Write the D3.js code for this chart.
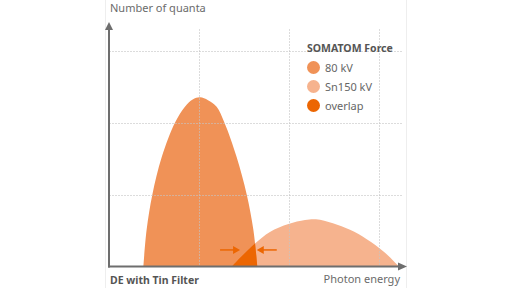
<!DOCTYPE html>
<html>
<head>
<meta charset="utf-8">
<script src="https://cdn.jsdelivr.net/npm/d3@7"></script>
<style>
  body { margin: 0; background: #fff; }
  svg { display: block; font-family: "Noto Sans", sans-serif; }
</style>
</head>
<body>
<svg id="chart"></svg>
<script>

  // ---------------------------//
  //            DATA            //
  // ---------------------------//

    // photon energy (keV) and relative number of quanta
    var energy80 = [19.1, 20.9, 24.1, 29.3, 36.7, 42.2, 46.5, 50.6, 55, 59.8, 64.1, 70.9, 76.5, 80.2, 82.4];
    var quanta80 = [0, 0.51, 1.0, 1.52, 2.0, 2.22, 2.32, 2.35, 2.31, 2.22, 2.0, 1.52, 1.0, 0.51, 0];

    var energySn150 = [68.3, 72.8, 81.1, 89.4, 99.7, 108.9, 115, 124.4, 133.9, 143.2, 152.5, 161.1];
    var quantaSn150 = [0, 0.12, 0.32, 0.48, 0.59, 0.645, 0.656, 0.60, 0.51, 0.38, 0.21, 0];

    var gridEnergy = [50, 100, 150];
    var gridQuanta = [1, 2, 3];

    var legendTitle = "SOMATOM Force";
    var legendLabels = ["80 kV", "Sn150 kV", "overlap"];
    var legendColors = ["#f09257", "#f6b38e", "#ec6602"];

    // little arrows pointing at the overlap (energy from, energy to, quanta)
    var overlapArrows = [[61.7, 72.8, 0.23], [93.2, 82.1, 0.23]];

  // ---------------------------//
  //         DIMENSIONS         //
  // ---------------------------//

    var width = 512;
    var height = 288;

    var x = d3.scaleLinear().domain([0, 150]).range([109, 379]);
    var y = d3.scaleLinear().domain([0, 3]).range([266.5, 50.5]);

    var svg = d3.select("#chart")
        .attr("width", width)
        .attr("height", height);

    var axisColor = "#6e6e6e";

  // ---------------------------//
  //           FRAME            //
  // ---------------------------//

    svg.selectAll(".frame")
        .data([105.5, 406.5])
        .enter().append("line")
        .attr("x1", d => d).attr("x2", d => d)
        .attr("y1", 0).attr("y2", height)
        .attr("stroke", "#eeeeee")
        .attr("stroke-width", 1);

  // ---------------------------//
  //           AREAS            //
  // ---------------------------//

    var data80 = energy80.map((e, i) => ({ e: e, q: quanta80[i] }));
    var dataSn = energySn150.map((e, i) => ({ e: e, q: quantaSn150[i] }));

    var area = d3.area()
        .x(d => x(d.e))
        .y0(y(0))
        .y1(d => y(d.q))
        .curve(d3.curveCatmullRom.alpha(0.5));

    svg.append("path")
        .datum(dataSn)
        .attr("d", area)
        .attr("fill", legendColors[1]);

    svg.append("path")
        .datum(data80)
        .attr("d", area)
        .attr("fill", legendColors[0]);

    // overlap = Sn150 area clipped by the 80 kV area
    svg.append("clipPath")
        .attr("id", "clip80")
        .append("path")
        .datum(data80)
        .attr("d", area);

    svg.append("path")
        .datum(dataSn)
        .attr("d", area)
        .attr("clip-path", "url(#clip80)")
        .attr("fill", legendColors[2]);

  // ---------------------------//
  //           GRID             //
  // ---------------------------//

    svg.selectAll(".hgrid")
        .data(gridQuanta)
        .enter().append("line")
        .attr("x1", x(0)).attr("x2", 403)
        .attr("y1", d => Math.round(y(d)) + 0.5)
        .attr("y2", d => Math.round(y(d)) + 0.5)
        .attr("stroke", "#c4c4c4")
        .attr("stroke-opacity", 0.6)
        .attr("stroke-dasharray", "2,1");

    svg.selectAll(".vgrid")
        .data(gridEnergy)
        .enter().append("line")
        .attr("x1", d => Math.round(x(d)) + 0.5)
        .attr("x2", d => Math.round(x(d)) + 0.5)
        .attr("y1", 29).attr("y2", y(0))
        .attr("stroke", "#c4c4c4")
        .attr("stroke-opacity", 0.6)
        .attr("stroke-dasharray", "2,1");

  // ---------------------------//
  //           AXES             //
  // ---------------------------//

    svg.append("line")
        .attr("x1", x(0)).attr("x2", x(0))
        .attr("y1", y(0) + 1).attr("y2", 28)
        .attr("stroke", axisColor)
        .attr("stroke-width", 2);

    svg.append("path")
        .attr("d", "M" + (x(0) - 4) + ",30L" + x(0) + ",22L" + (x(0) + 4) + ",30Z")
        .attr("fill", axisColor);

    svg.append("line")
        .attr("x1", x(0) - 1).attr("x2", 400)
        .attr("y1", y(0)).attr("y2", y(0))
        .attr("stroke", axisColor)
        .attr("stroke-width", 2);

    svg.append("path")
        .attr("d", "M398," + (y(0) - 4) + "L407," + y(0) + "L398," + (y(0) + 4) + "Z")
        .attr("fill", axisColor);

  // ---------------------------//
  //          ARROWS            //
  // ---------------------------//

    var arrows = svg.selectAll(".arrow")
        .data(overlapArrows)
        .enter().append("g");

    arrows.append("line")
        .attr("x1", d => x(d[0]))
        .attr("x2", d => x(d[1]) - Math.sign(d[1] - d[0]) * 5)
        .attr("y1", d => y(d[2]))
        .attr("y2", d => y(d[2]))
        .attr("stroke", legendColors[2])
        .attr("stroke-width", 1.5);

    arrows.append("path")
        .attr("d", function(d) {
            var tip = x(d[1]);
            var back = tip - Math.sign(d[1] - d[0]) * 7;
            var yy = y(d[2]);
            return "M" + back + "," + (yy - 4) + "L" + tip + "," + yy + "L" + back + "," + (yy + 4) + "Z";
        })
        .attr("fill", legendColors[2]);

  // ---------------------------//
  //           LEGEND           //
  // ---------------------------//

    svg.append("text")
        .attr("x", 307)
        .attr("y", 52)
        .attr("fill", "#555")
        .style("font-size", "10.5px")
        .style("font-weight", "bold")
        .text(legendTitle);

    var legend = svg.selectAll(".legend")
        .data(legendLabels)
        .enter().append("g")
        .attr("transform", function(d, i) {
            return "translate(313.5," + (67.5 + i * 19) + ")";
        });

    legend.append("circle")
        .attr("r", 6.5)
        .attr("fill", (d, i) => legendColors[i]);

    legend.append("text")
        .attr("x", 11.5)
        .attr("y", 4)
        .attr("fill", "#666")
        .style("font-size", "11px")
        .text(d => d);

  // ---------------------------//
  //            TITLES          //
  // ---------------------------//

    svg.append("text")
        .attr("x", 110)
        .attr("y", 12)
        .attr("fill", "#6b6b6b")
        .style("font-size", "11px")
        .text("Number of quanta");

    svg.append("text")
        .attr("x", 110)
        .attr("y", 284)
        .attr("fill", "#555")
        .style("font-size", "10.5px")
        .style("font-weight", "bold")
        .text("DE with Tin Filter");

    svg.append("text")
        .attr("x", 400)
        .attr("y", 283)
        .attr("text-anchor", "end")
        .attr("fill", "#6b6b6b")
        .style("font-size", "11px")
        .text("Photon energy");

</script>
</body>
</html>
